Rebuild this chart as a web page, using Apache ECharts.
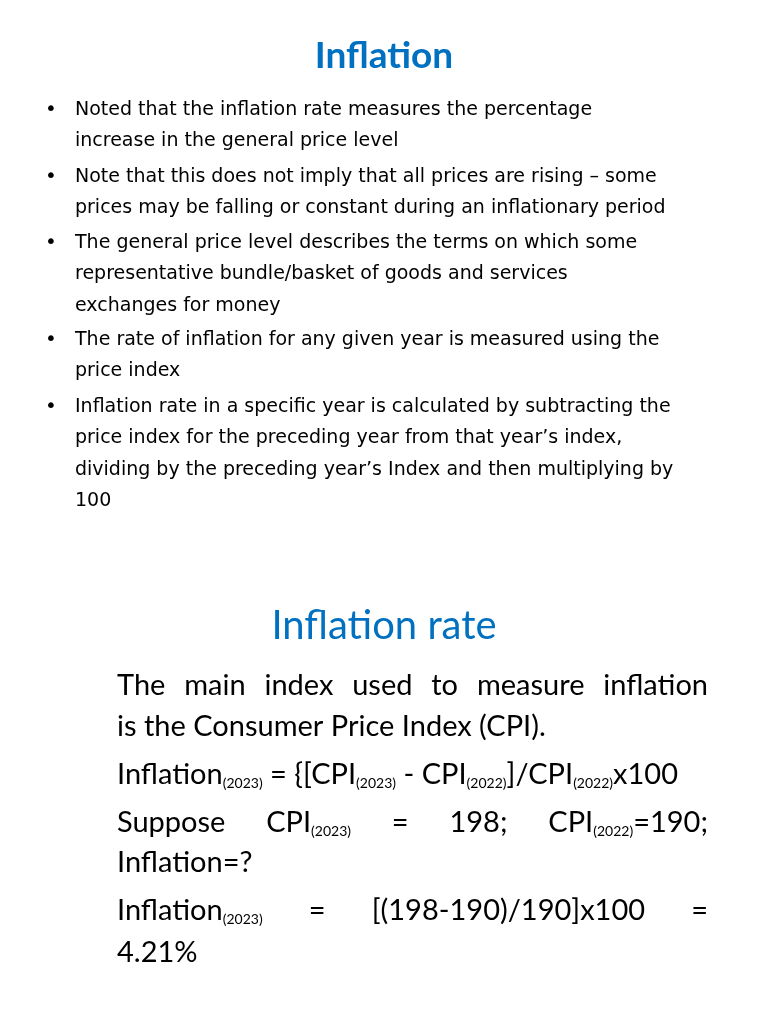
<!DOCTYPE html>
<html><head><meta charset="utf-8">
<script src="https://cdn.jsdelivr.net/npm/echarts@6/dist/echarts.min.js"></script>
<style>html,body{margin:0;padding:0;background:#fff}#c{width:768px;height:1024px}</style>
</head><body><div id="c"></div>
<script>
const title1 = "Inflation";
const bullets = [
  ["Noted that the inflation rate measures the percentage", "increase in the general price level"],
  ["Note that this does not imply that all prices are rising \u2013 some", "prices may be falling or constant during an inflationary period"],
  ["The general price level describes the terms on which some", "representative bundle/basket of goods and services", "exchanges for money"],
  ["The rate of inflation for any given year is measured using the", "price index"],
  ["Inflation rate in a specific year is calculated by subtracting the", "price index for the preceding year from that year\u2019s index,", "dividing by the preceding year\u2019s Index and then multiplying by", "100"]
];
const title2 = "Inflation rate";
const bodyLines = [
  [true, [[["The",0]],[["main",0]],[["index",0]],[["used",0]],[["to",0]],[["measure",0]],[["inflation",0]]]],
  [false, [[["is the Consumer Price Index (CPI).",0]]]],
  [false, [[["Inflation",0],["(2023)",1],[" = {[CPI",0],["(2023)",1],[" - CPI",0],["(2022)",1],["]/CPI",0],["(2022)",1],["x100",0]]]],
  [true, [[["Suppose",0]],[["CPI",0],["(2023)",1]],[["=",0]],[["198;",0]],[["CPI",0],["(2022)",1],["=190;",0]]]],
  [false, [[["Inflation=?",0]]]],
  [true, [[["Inflation",0],["(2023)",1]],[["=",0]],[["[(198-190)/190]x100",0]],[["=",0]]]],
  [false, [[["4.21%",0]]]]
];

const FONT = "Lato";
const BFONT = "'DejaVu Sans'";
const bulletY = [110, 177, 243, 340, 407];
const bulletStep = 31.5;
const bodyY = [686, 727, 775, 823, 863, 911, 953];
const BS = 29, SS = 14, L = 117, R = 708;

const cv = document.createElement('canvas').getContext('2d');
function w(t, s){ cv.font = s + "px " + FONT; return cv.measureText(t).width; }

const g = [];
g.push({type:'text', left:'center', top:38, style:{text:title1, font:"bold 37px "+FONT, fill:'#0070C0'}});
bullets.forEach((b,i)=>{
  g.push({type:'text', x:45, y:bulletY[i], style:{text:'\u2022', font:"20px "+BFONT, fill:'#000', verticalAlign:'middle'}});
  b.forEach((ln,j)=>g.push({type:'text', x:75, y:bulletY[i]+j*bulletStep, style:{text:ln, font:"19px "+BFONT, fill:'#000', verticalAlign:'middle'}}));
});
g.push({type:'text', left:'center', top:606, style:{text:title2, font:"40px "+FONT, fill:'#0070C0'}});

bodyLines.forEach(([just, toks], i)=>{
  const widths = toks.map(t=>t.reduce((a,[s,sub])=>a+w(s, sub?SS:BS),0));
  const total = widths.reduce((a,b)=>a+b,0);
  const gap = just && toks.length>1 ? (R-L-total)/(toks.length-1) : w(' ',BS);
  let x = L;
  toks.forEach((t)=>{
    t.forEach(([s,sub])=>{
      g.push({type:'text', x:x, y: bodyY[i] + (sub?8:0), style:{text:s, font:(sub?SS:BS)+"px "+FONT, fill:'#000', verticalAlign:'middle'}});
      x += w(s, sub?SS:BS);
    });
    x += gap;
  });
});

const chart = echarts.init(document.getElementById('c'));
chart.setOption({backgroundColor:'#fff', graphic:g});
</script></body></html>
